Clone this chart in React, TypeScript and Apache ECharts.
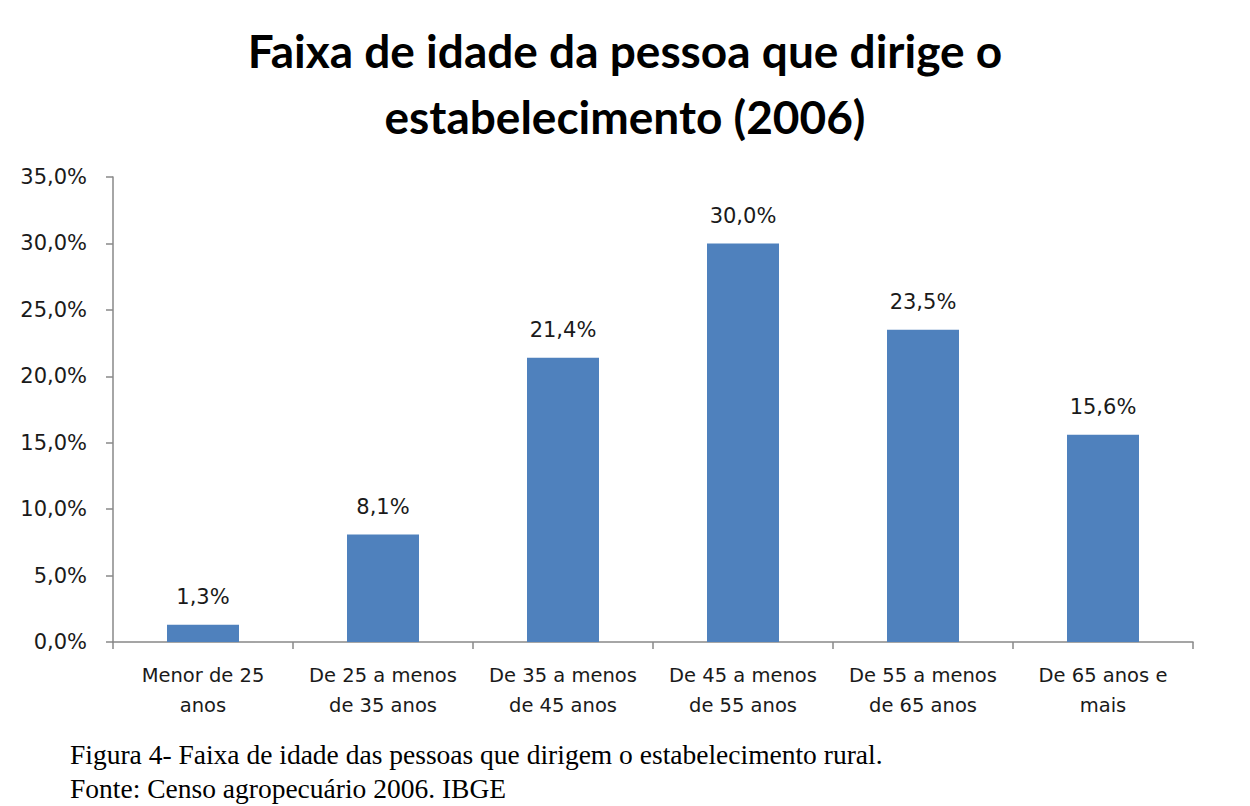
import { useEffect, useRef } from 'react'
import * as echarts from 'echarts'

const categories = [
  'Menor de 25\nanos',
  'De 25 a menos\nde 35 anos',
  'De 35 a menos\nde 45 anos',
  'De 45 a menos\nde 55 anos',
  'De 55 a menos\nde 65 anos',
  'De 65 anos e\nmais',
]
const shares = [1.3, 8.1, 21.4, 30.0, 23.5, 15.6]
const titleText = 'Faixa de idade da pessoa que dirige o\nestabelecimento (2006)'
const captionLines = [
  'Figura 4- Faixa de idade das pessoas que dirigem o estabelecimento rural.',
  'Fonte: Censo agropecuário 2006. IBGE',
]

const pct = (v: number) => v.toFixed(1).replace('.', ',') + '%'
const labelFont = '"DejaVu Sans", sans-serif'
const titleFont = 'Lato, "Open Sans", sans-serif'

export default function App() {
  const chartRef = useRef<HTMLDivElement>(null)

  useEffect(() => {
    if (!chartRef.current) return
    const chart = echarts.init(chartRef.current, null, { renderer: 'svg' })
    chart.setOption({
      animation: false,
      backgroundColor: '#fff',
      title: {
        text: titleText,
        left: 'center',
        top: 12,
        textStyle: {
          fontFamily: titleFont,
          fontSize: 46,
          fontWeight: 'bold',
          color: '#000',
          lineHeight: 66,
        },
      },
      grid: { left: 113, right: 57, top: 177, bottom: 70, outerBoundsMode: 'none' },
      xAxis: {
        type: 'category',
        data: categories,
        axisLine: { lineStyle: { color: '#888', width: 1.5 } },
        axisTick: { show: true, length: 7, lineStyle: { color: '#888', width: 1.5 } },
        axisLabel: {
          interval: 0,
          margin: 18,
          fontFamily: labelFont,
          fontSize: 19.5,
          lineHeight: 30,
          color: '#1a1a1a',
        },
      },
      yAxis: {
        type: 'value',
        min: 0,
        max: 35,
        interval: 5,
        splitLine: { show: false },
        axisLine: { show: true, lineStyle: { color: '#888', width: 1.5 } },
        axisTick: { show: true, inside: false, length: 7, lineStyle: { color: '#888', width: 1.5 } },
        axisLabel: {
          formatter: (v: number) => pct(v),
          margin: 26,
          fontFamily: labelFont,
          fontSize: 21,
          color: '#1a1a1a',
        },
      },
      series: [
        {
          type: 'bar',
          data: shares,
          barWidth: 72,
          itemStyle: { color: '#4f81bd' },
          label: {
            show: true,
            position: 'top',
            distance: 17,
            formatter: (p: any) => pct(p.value),
            fontFamily: labelFont,
            fontSize: 21,
            color: '#1a1a1a',
          },
        },
      ],
    })
    return () => chart.dispose()
  }, [])

  return (
    <div style={{ position: 'fixed', left: 0, top: 0, width: 1250, height: 806, background: '#fff', overflow: 'hidden' }}>
      <div ref={chartRef} style={{ position: 'absolute', left: 0, top: 0, width: 1250, height: 712 }} />
      <div
        style={{
          position: 'absolute',
          left: 70,
          top: 738,
          fontFamily: '"Liberation Serif", serif',
          fontSize: 27.5,
          lineHeight: '34px',
          color: '#000',
          whiteSpace: 'nowrap',
        }}
      >
        {captionLines.map((l) => (
          <div key={l}>{l}</div>
        ))}
      </div>
    </div>
  )
}
